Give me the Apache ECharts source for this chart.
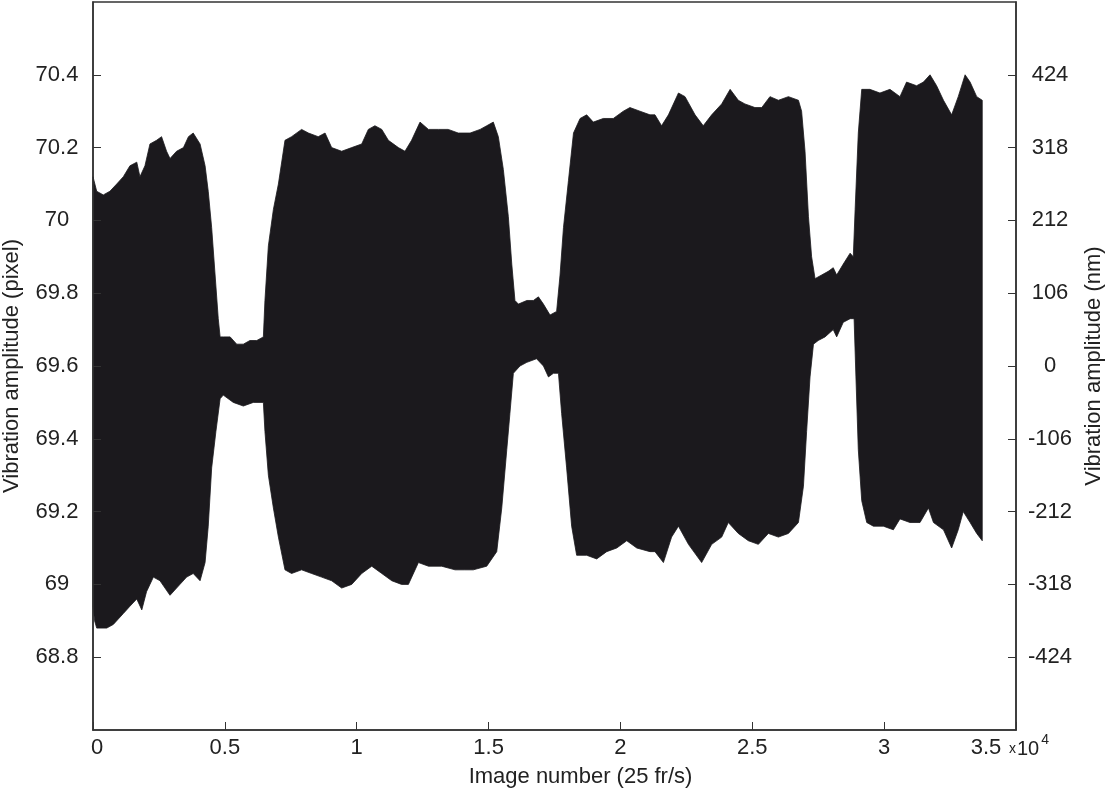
<!DOCTYPE html>
<html>
<head>
<meta charset="utf-8">
<title>Vibration amplitude</title>
<script src="https://cdn.jsdelivr.net/npm/echarts/dist/echarts.min.js"></script>
<style>
  html, body { margin: 0; padding: 0; background: #fff; }
  #main { width: 1107px; height: 791px; }
</style>
</head>
<body>
<div id="main"></div>
<script>
  // upper envelope of the vibration signal (image number, pixel)
  var upFrames = [0, 140, 390, 640, 900, 1150, 1400, 1660, 1780, 1970, 2160, 2410, 2600, 2790, 2920, 3170, 3430, 3620, 3800, 4060,
    4250, 4370, 4500, 4630, 4750, 4820, 4940, 5200, 5450, 5700, 5950, 6210, 6460, 6520, 6650, 6840, 7030, 7280, 7530, 7910,
    8170, 8540, 8800, 9050, 9430, 9810, 10190, 10440, 10690, 10950, 11200, 11580, 11830, 12080, 12400, 12720, 13100, 13470, 13850, 14300,
    14680, 14930, 15180, 15370, 15560, 15750, 15880, 16000, 16130, 16450, 16700, 16890, 17080, 17330, 17580, 17710, 17840, 18030, 18220, 18470,
    18720, 18970, 19350, 19730, 20110, 20360, 20740, 21120, 21310, 21560, 21820, 22200, 22450, 22830, 23140, 23460, 23840, 24160, 24470, 24720,
    25100, 25360, 25670, 25990, 26370, 26750, 26870, 27000, 27130, 27250, 27380, 27630, 27880, 28070, 28200, 28450, 28710, 28830, 28900, 29020,
    29150, 29460, 29840, 30220, 30600, 30850, 31230, 31490, 31740, 31990, 32250, 32560, 32810, 33070, 33260, 33510, 33720]
  var upAmp = [70.12, 70.08, 70.07, 70.08, 70.10, 70.12, 70.15, 70.16, 70.12, 70.15, 70.21, 70.22, 70.23, 70.19, 70.17, 70.19, 70.20, 70.23, 70.24, 70.21,
    70.15, 70.08, 69.98, 69.85, 69.73, 69.68, 69.68, 69.68, 69.66, 69.66, 69.67, 69.67, 69.68, 69.78, 69.93, 70.03, 70.10, 70.22, 70.23, 70.25,
    70.24, 70.23, 70.24, 70.20, 70.19, 70.20, 70.21, 70.25, 70.26, 70.25, 70.22, 70.20, 70.19, 70.22, 70.27, 70.25, 70.25, 70.25, 70.24, 70.24,
    70.25, 70.26, 70.27, 70.23, 70.14, 70.01, 69.88, 69.78, 69.77, 69.78, 69.78, 69.79, 69.77, 69.74, 69.75, 69.85, 69.98, 70.11, 70.24, 70.28,
    70.29, 70.27, 70.28, 70.28, 70.30, 70.31, 70.30, 70.29, 70.29, 70.26, 70.29, 70.35, 70.34, 70.29, 70.26, 70.29, 70.32, 70.36, 70.33, 70.32,
    70.31, 70.31, 70.34, 70.33, 70.34, 70.33, 70.30, 70.19, 70.01, 69.90, 69.84, 69.85, 69.86, 69.87, 69.85, 69.88, 69.91, 69.90, 70.03, 70.24,
    70.36, 70.36, 70.35, 70.36, 70.34, 70.38, 70.37, 70.38, 70.40, 70.37, 70.33, 70.29, 70.34, 70.40, 70.38, 70.34, 70.33]

  // lower envelope of the vibration signal (image number, pixel)
  var lowFrames = [0, 60, 140, 520, 770, 1150, 1400, 1660, 1850, 2030, 2290, 2540, 2920, 3170, 3550, 3800, 4060, 4250, 4370, 4500,
    4660, 4820, 4940, 5320, 5700, 6080, 6460, 6520, 6650, 6840, 7030, 7280, 7530, 7910, 8290, 8670, 9050, 9430, 9810, 10190,
    10570, 10950, 11330, 11700, 11960, 12340, 12720, 13220, 13730, 14100, 14420, 14930, 15310, 15500, 15690, 15810, 15940, 16190, 16450, 16820,
    17080, 17270, 17460, 17650, 17770, 17960, 18150, 18340, 18720, 19100, 19480, 19860, 20240, 20620, 21120, 21310, 21630, 21940, 22200, 22580,
    23080, 23460, 23840, 24090, 24470, 24850, 25230, 25610, 25990, 26370, 26750, 26940, 27060, 27190, 27320, 27500, 27760, 28070, 28200, 28450,
    28710, 28860, 28930, 29020, 29150, 29340, 29590, 29970, 30350, 30600, 30980, 31360, 31680, 31870, 32250, 32560, 32810, 33000, 33260, 33510,
    33720]
  var lowAmp = [68.94, 68.90, 68.88, 68.88, 68.89, 68.92, 68.94, 68.96, 68.93, 68.98, 69.02, 69.01, 68.97, 68.99, 69.02, 69.03, 69.01, 69.06, 69.16, 69.32,
    69.42, 69.51, 69.52, 69.50, 69.49, 69.50, 69.50, 69.42, 69.30, 69.21, 69.13, 69.04, 69.03, 69.04, 69.03, 69.02, 69.01, 68.99, 69.00, 69.03,
    69.05, 69.03, 69.01, 69.00, 69.00, 69.06, 69.05, 69.05, 69.04, 69.04, 69.04, 69.05, 69.09, 69.21, 69.37, 69.47, 69.58, 69.60, 69.61, 69.62,
    69.60, 69.57, 69.58, 69.58, 69.47, 69.32, 69.16, 69.08, 69.08, 69.07, 69.09, 69.10, 69.12, 69.10, 69.09, 69.09, 69.06, 69.13, 69.16, 69.11,
    69.06, 69.11, 69.13, 69.17, 69.14, 69.12, 69.11, 69.14, 69.13, 69.14, 69.17, 69.27, 69.42, 69.57, 69.66, 69.67, 69.68, 69.70, 69.68, 69.72,
    69.73, 69.73, 69.57, 69.37, 69.23, 69.17, 69.16, 69.16, 69.15, 69.18, 69.17, 69.17, 69.21, 69.17, 69.15, 69.10, 69.15, 69.20, 69.17, 69.14,
    69.12]

  var xTicks = [0, 5000, 10000, 15000, 20000, 25000, 30000, 35000]

  var ink = '#1b191d'
  var axisColor = '#333'
  var font = 'Liberation Sans, Arial, sans-serif'

  // one polygon: upper envelope left to right, then lower envelope back
  function renderBand(params, api) {
    var pts = []
    for (var i = 0; i < upFrames.length; i++) {
      pts.push(api.coord([upFrames[i], upAmp[i]]))
    }
    for (var j = lowFrames.length - 1; j >= 0; j--) {
      pts.push(api.coord([lowFrames[j], lowAmp[j]]))
    }
    return {
      type: 'polygon',
      shape: { points: pts },
      style: { fill: ink, stroke: ink, lineWidth: 0.8 }
    }
  }

  var chart = echarts.init(document.getElementById('main'))
  chart.setOption({
    animation: false,
    backgroundColor: '#fff',
    grid: {
      left: 93,
      right: 91,
      top: 2,
      bottom: 61,
      containLabel: false,
      outerBoundsMode: 'none',
      show: true,
      borderColor: axisColor,
      borderWidth: 1.5
    },
    xAxis: {
      type: 'value',
      min: 0,
      max: 35000,
      interval: 5000,
      z: 10,
      name: 'Image number (25 fr/s)',
      nameLocation: 'middle',
      nameGap: 36,
      nameTextStyle: { fontSize: 22, color: '#222', fontFamily: font, padding: [0, 0, 0, 52] },
      axisLine: { onZero: false, lineStyle: { color: axisColor, width: 1.5 } },
      axisTick: { inside: true, length: 8, lineStyle: { color: axisColor } },
      axisLabel: {
        margin: 7,
        fontSize: 22,
        color: '#222',
        fontFamily: font,
        formatter: function (v) {
          if (xTicks.indexOf(v) < 0) return ''
          if (v === 0) return '{first|0}'
          if (v === 35000) return '{last|' + v / 10000 + '}'
          return String(v / 10000)
        },
        rich: {
          first: { fontSize: 22, color: '#222', fontFamily: font, padding: [0, 0, 0, 8] },
          last: { fontSize: 22, color: '#222', fontFamily: font, padding: [0, 60, 0, 0] }
        }
      },
      splitLine: { show: false }
    },
    yAxis: [
      {
        type: 'value',
        position: 'left',
        min: 68.6,
        max: 70.6,
        interval: 0.2,
        z: 10,
        name: 'Vibration amplitude (pixel)',
        nameLocation: 'middle',
        nameRotate: 90,
        nameGap: 70,
        nameTextStyle: { fontSize: 22, color: '#222', fontFamily: font },
        axisLine: { show: true, onZero: false, lineStyle: { color: axisColor, width: 1.5 } },
        axisTick: { show: true, inside: true, length: 8, lineStyle: { color: axisColor } },
        axisLabel: {
          showMinLabel: false,
          showMaxLabel: false,
          align: 'center',
          margin: 36,
          fontSize: 22,
          color: '#222',
          fontFamily: font
        },
        splitLine: { show: false }
      },
      {
        type: 'value',
        position: 'right',
        min: -530,
        max: 530,
        interval: 106,
        z: 10,
        name: 'Vibration amplitude (nm)',
        nameLocation: 'middle',
        nameRotate: 90,
        nameGap: 66,
        nameTextStyle: { fontSize: 22, color: '#222', fontFamily: font },
        axisLine: { show: true, onZero: false, lineStyle: { color: axisColor, width: 1.5 } },
        axisTick: { show: true, inside: true, length: 8, lineStyle: { color: axisColor } },
        axisLabel: {
          showMinLabel: false,
          showMaxLabel: false,
          align: 'center',
          margin: 34,
          fontSize: 22,
          color: '#222',
          fontFamily: font
        },
        splitLine: { show: false }
      }
    ],
    graphic: [
      {
        type: 'text',
        left: 1009,
        top: 733,
        z: 20,
        style: {
          text: '{x|x}{b|10}{s|4}',
          rich: {
            x: { fontSize: 14, fill: '#222', fontFamily: font, padding: [7, 1, 0, 0] },
            b: { fontSize: 20, fill: '#222', fontFamily: font, padding: [7, 0, 0, 0] },
            s: { fontSize: 14, fill: '#222', fontFamily: font, padding: [0, 0, 12, 2] }
          }
        }
      }
    ],
    series: [
      {
        name: 'envelope',
        type: 'custom',
        xAxisIndex: 0,
        yAxisIndex: 0,
        renderItem: renderBand,
        data: [[upFrames[0], upAmp[0]]],
        encode: { x: 0, y: 1 },
        silent: true
      }
    ]
  })
</script>
</body>
</html>
